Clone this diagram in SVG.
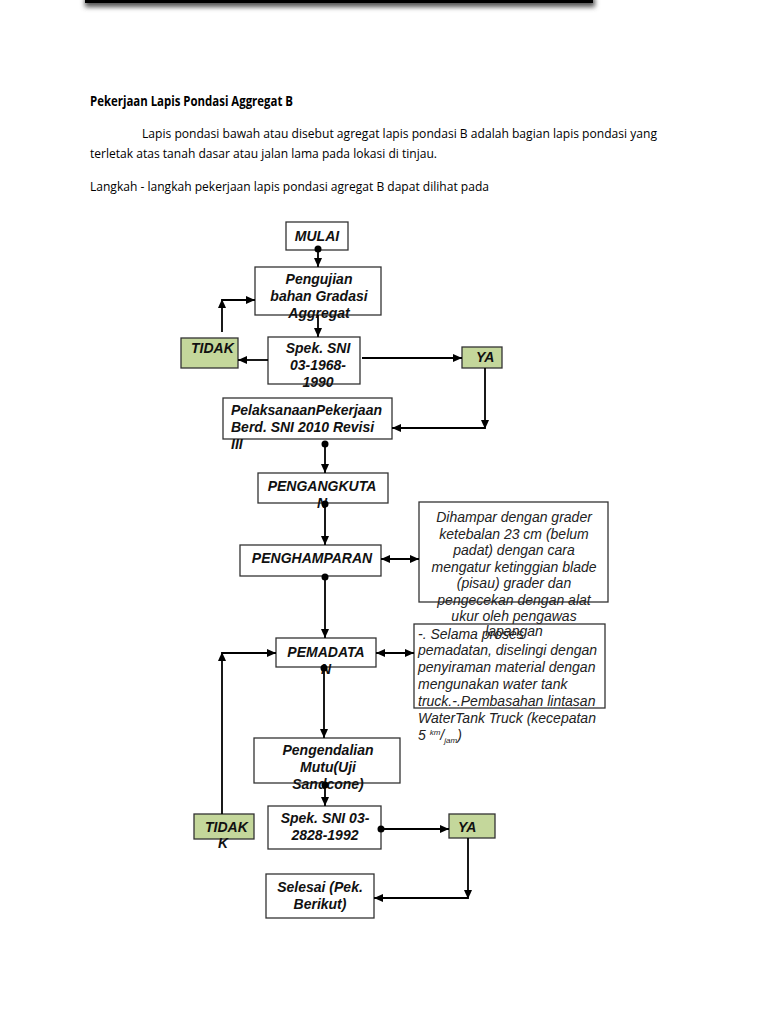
<svg xmlns="http://www.w3.org/2000/svg" width="768" height="1024" viewBox="0 0 768 1024">
<defs>
<marker id="ah" markerUnits="userSpaceOnUse" markerWidth="9" markerHeight="8" refX="9" refY="4" orient="auto-start-reverse"><path d="M0,0 L9,4 L0,8 z" fill="#000"/></marker>
<filter id="sh" x="-5%" y="-200%" width="110%" height="600%"><feGaussianBlur stdDeviation="2.5"/></filter>
</defs>
<style>
.hd{font-family:"Open Sans","Liberation Sans",Arial,sans-serif;font-size:13.5px;fill:#000}
.nd rect{fill:#fff;stroke:#333;stroke-width:1.3}
.nd.g rect{fill:#c4d79b}
.nt{font-family:"Liberation Sans",Arial,sans-serif;font-size:14px;font-weight:bold;font-style:italic;fill:#111}
.dt{font-family:"Liberation Sans",Arial,sans-serif;font-size:14px;font-style:italic;fill:#222}
#connectors path{stroke:#000;stroke-width:1.8;fill:none}
#connectors .a{marker-end:url(#ah)}
#connectors .b{marker-start:url(#ah);marker-end:url(#ah)}
#connectors circle{fill:#000}
</style>
<rect x="85" y="-3" width="510" height="10" fill="#555" filter="url(#sh)"/>
<rect x="85" y="0" width="508" height="3" fill="#000"/>
<g id="header">
<text class="hd" x="90" y="106" font-weight="bold" textLength="203" lengthAdjust="spacingAndGlyphs">Pekerjaan Lapis Pondasi Aggregat B</text>
<text class="hd" x="142" y="138" textLength="515" lengthAdjust="spacingAndGlyphs">Lapis pondasi bawah atau disebut agregat lapis pondasi B adalah bagian  lapis pondasi yang</text>
<text class="hd" x="90" y="158" textLength="347" lengthAdjust="spacingAndGlyphs">terletak atas tanah dasar atau jalan lama pada lokasi di tinjau.</text>
<text class="hd" x="90" y="191" textLength="399" lengthAdjust="spacingAndGlyphs">Langkah - langkah pekerjaan lapis pondasi agregat B  dapat dilihat pada</text>
</g>
<g id="mulai" class="nd"><rect x="286" y="222" width="62" height="28"/><text class="nt" x="317" y="241" text-anchor="middle">MULAI</text></g>
<g id="pengujian" class="nd"><rect x="255" y="267" width="126" height="48"/>
<text class="nt" text-anchor="middle"><tspan x="319" y="284">Pengujian</tspan><tspan x="319" y="301">bahan Gradasi</tspan><tspan x="319" y="318">Aggregat</tspan></text></g>
<g id="spek1" class="nd"><rect x="268" y="337" width="92" height="47"/>
<text class="nt" text-anchor="middle"><tspan x="318" y="353">Spek. SNI</tspan><tspan x="318" y="370">03-1968-</tspan><tspan x="318" y="387">1990</tspan></text></g>
<g id="tidak1" class="nd g"><rect x="181" y="338" width="57" height="30"/><text class="nt" x="191" y="353">TIDAK</text></g>
<g id="ya1" class="nd g"><rect x="462" y="347" width="40" height="21"/><text class="nt" x="476" y="362">YA</text></g>
<g id="pelaksanaan" class="nd"><rect x="223" y="398" width="169" height="41"/>
<text class="nt"><tspan x="231" y="415">PelaksanaanPekerjaan</tspan><tspan x="231" y="432">Berd. SNI 2010 Revisi</tspan><tspan x="231" y="449">III</tspan></text></g>
<g id="pengangkutan" class="nd"><rect x="258" y="473" width="130" height="30"/>
<text class="nt" text-anchor="middle"><tspan x="322" y="491">PENGANGKUTA</tspan><tspan x="322" y="508">N</tspan></text></g>
<g id="penghamparan" class="nd"><rect x="240" y="545" width="141" height="31"/><text class="nt" x="312" y="563" text-anchor="middle">PENGHAMPARAN</text></g>
<g id="ket1" class="nd"><rect x="419" y="502" width="189" height="100"/>
<text class="dt" text-anchor="middle"><tspan x="514" y="522">Dihampar dengan grader</tspan><tspan x="514" y="539">ketebalan 23 cm (belum</tspan><tspan x="514" y="555">padat) dengan cara</tspan><tspan x="514" y="572">mengatur ketinggian blade</tspan><tspan x="514" y="588">(pisau) grader dan</tspan><tspan x="514" y="605">pengecekan dengan alat</tspan><tspan x="514" y="621">ukur oleh pengawas</tspan><tspan x="514" y="636">lapangan</tspan></text></g>
<g id="pemadatan" class="nd"><rect x="276" y="638" width="100" height="29"/>
<text class="nt" text-anchor="middle"><tspan x="326" y="657">PEMADATA</tspan><tspan x="326" y="674">N</tspan></text></g>
<g id="ket2" class="nd"><rect x="414" y="624" width="191" height="84" style="fill:none"/>
<text class="dt"><tspan x="418" y="639">-. Selama proses</tspan><tspan x="418" y="655">pemadatan, diselingi dengan</tspan><tspan x="418" y="672">penyiraman material dengan</tspan><tspan x="418" y="689">mengunakan water tank</tspan><tspan x="418" y="706">truck.-.Pembasahan lintasan</tspan><tspan x="418" y="723">WaterTank Truck (kecepatan</tspan><tspan x="418" y="740">5 <tspan font-size="8" dy="-5">km</tspan><tspan dy="5">/</tspan><tspan font-size="8" dy="3">jam</tspan><tspan dy="-3">)</tspan></tspan></text></g>
<g id="pengendalian" class="nd"><rect x="254" y="738" width="146" height="45"/>
<text class="nt" text-anchor="middle"><tspan x="328" y="755">Pengendalian</tspan><tspan x="328" y="772">Mutu(Uji</tspan><tspan x="328" y="789">Sandcone)</tspan></text></g>
<g id="spek2" class="nd"><rect x="268" y="806" width="113" height="43"/>
<text class="nt" text-anchor="middle"><tspan x="325" y="823">Spek. SNI 03-</tspan><tspan x="325" y="840">2828-1992</tspan></text></g>
<g id="tidak2" class="nd g"><rect x="194" y="814" width="60" height="25"/>
<text class="nt"><tspan x="205" y="832">TIDAK</tspan><tspan x="218" y="848">K</tspan></text></g>
<g id="ya2" class="nd g"><rect x="449" y="814" width="46" height="24"/><text class="nt" x="458" y="832">YA</text></g>
<g id="selesai" class="nd"><rect x="266" y="874" width="108" height="44"/>
<text class="nt" text-anchor="middle"><tspan x="320" y="892">Selesai (Pek.</tspan><tspan x="320" y="909">Berikut)</tspan></text></g>
<g id="connectors">
<circle cx="318" cy="249" r="3.5"/><path class="a" d="M318,249 V267"/>
<path class="a" d="M318,315 V337"/>
<path class="a" d="M268,360 H238"/>
<path class="a" d="M222,332 V299"/>
<path class="a" d="M222,300 H255"/>
<path class="a" d="M362,358 H462"/>
<path class="a" d="M485,368 V429"/>
<path class="a" d="M485,428 H392"/>
<circle cx="325" cy="444" r="3.5"/><path class="a" d="M325,444 V473"/>
<circle cx="325" cy="504" r="3.5"/><path class="a" d="M325,504 V545"/>
<path class="b" d="M381,559 H419"/>
<circle cx="325" cy="577" r="3.5"/><path class="a" d="M325,577 V638"/>
<path class="b" d="M376,653 H414"/>
<path class="a" d="M222,814 V652"/>
<path class="a" d="M222,653 H276"/>
<circle cx="324" cy="668" r="3.5"/><path class="a" d="M324,668 V738"/>
<circle cx="325" cy="785" r="3.5"/><path class="a" d="M325,785 V806"/>
<circle cx="381" cy="829" r="3.5"/><path class="a" d="M381,829 H449"/>
<path class="a" d="M468,838 V899"/>
<path class="a" d="M468,898 H374"/>
</g>
</svg>
